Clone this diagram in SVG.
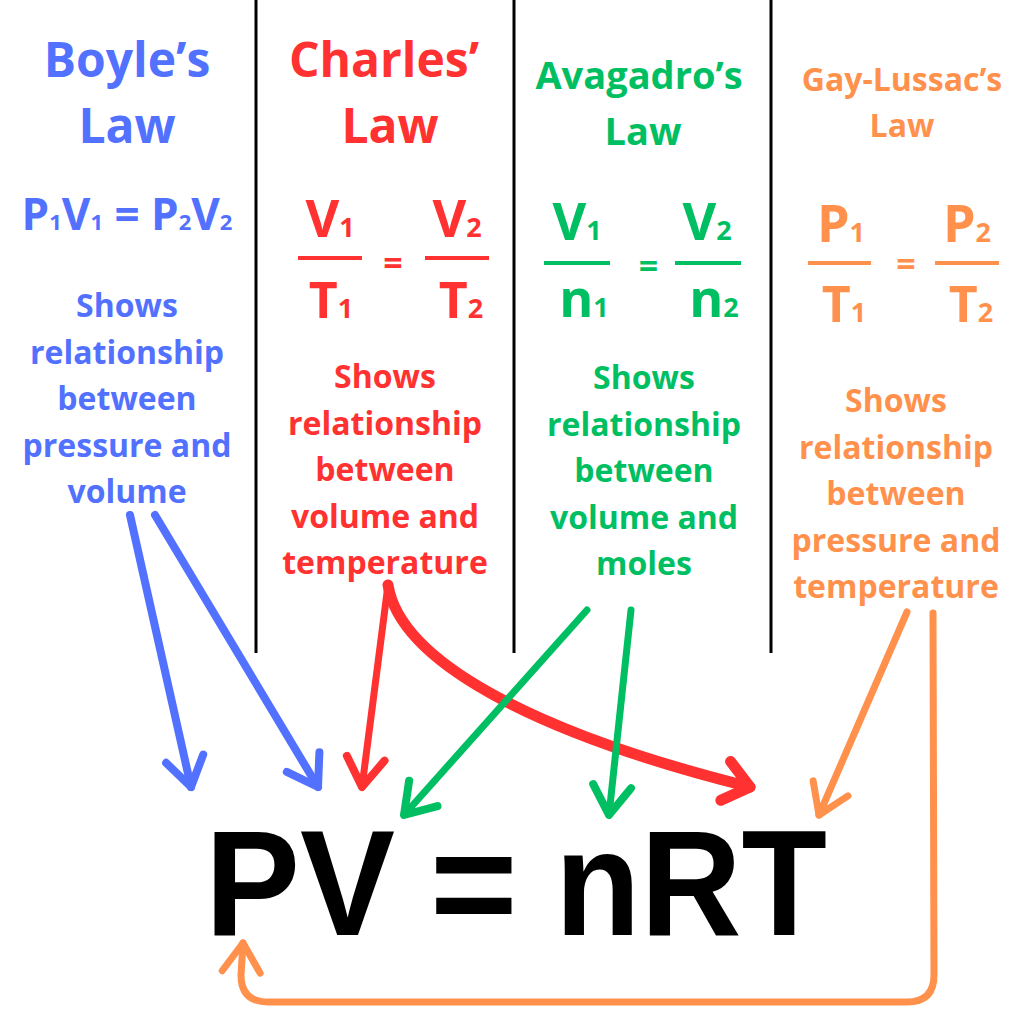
<svg xmlns="http://www.w3.org/2000/svg" width="1024" height="1024" viewBox="0 0 1024 1024">
<style>
.t{font-family:"Open Sans","Liberation Sans",sans-serif;font-weight:700;text-anchor:middle}
.blue{fill:#5271FF}.red{fill:#FF3131}.green{fill:#00BF63}.orange{fill:#FF914D}
.body{font-size:32px}
.big{font-family:"Liberation Sans",Arial,sans-serif;font-weight:700;font-size:150px;fill:#000}
.div{stroke:#000;stroke-width:3}
.conn{fill:none;stroke-linecap:round;stroke-linejoin:round}
.cb{stroke:#5271FF;stroke-width:8;marker-end:url(#mb)}
.cr{stroke:#FF3131;stroke-width:7;marker-end:url(#mr)}
.crt{stroke:#FF3131;stroke-width:11;marker-end:url(#mrt)}
.cg{stroke:#00BF63;stroke-width:7;marker-end:url(#mg)}
.co{stroke:#FF914D;stroke-width:7;marker-end:url(#mo)}
</style>
<defs>
<marker id="mb" markerUnits="userSpaceOnUse" orient="auto" overflow="visible" markerWidth="1" markerHeight="1"><path d="M-29,-19 L0,0 L-29,19" fill="none" stroke="#5271FF" stroke-width="8" stroke-linecap="round" stroke-linejoin="round"/></marker>
<marker id="mr" markerUnits="userSpaceOnUse" orient="auto" overflow="visible" markerWidth="1" markerHeight="1"><path d="M-29,-19 L0,0 L-29,19" fill="none" stroke="#FF3131" stroke-width="8" stroke-linecap="round" stroke-linejoin="round"/></marker>
<marker id="mrt" markerUnits="userSpaceOnUse" orient="auto" overflow="visible" markerWidth="1" markerHeight="1"><path d="M-25,-20 L0,0 L-25,20" fill="none" stroke="#FF3131" stroke-width="11" stroke-linecap="round" stroke-linejoin="round"/></marker>
<marker id="mg" markerUnits="userSpaceOnUse" orient="auto" overflow="visible" markerWidth="1" markerHeight="1"><path d="M-29,-19 L0,0 L-29,19" fill="none" stroke="#00BF63" stroke-width="8" stroke-linecap="round" stroke-linejoin="round"/></marker>
<marker id="mo" markerUnits="userSpaceOnUse" orient="auto" overflow="visible" markerWidth="1" markerHeight="1"><path d="M-29,-19 L0,0 L-29,19" fill="none" stroke="#FF914D" stroke-width="7" stroke-linecap="round" stroke-linejoin="round"/></marker>
</defs>
<rect width="1024" height="1024" fill="#fff"/>
<g id="dividers">
<line class="div" x1="256" y1="0" x2="256" y2="653"/>
<line class="div" x1="514" y1="0" x2="514" y2="653"/>
<line class="div" x1="771" y1="0" x2="771" y2="653"/>
</g>
<g id="boyle">
<text class="t blue" font-size="48" x="127" y="77">Boyle’s</text>
<text class="t blue" font-size="48" x="127" y="143">Law</text>
<text class="t blue" font-size="44" x="127" y="230">P<tspan font-size="22">1</tspan>V<tspan font-size="22">1</tspan> = P<tspan font-size="22">2</tspan>V<tspan font-size="22">2</tspan></text>
<text class="t blue body" x="127" y="317">Shows</text>
<text class="t blue body" x="127" y="363.5">relationship</text>
<text class="t blue body" x="127" y="410">between</text>
<text class="t blue body" x="127" y="456.5">pressure and</text>
<text class="t blue body" x="127" y="503">volume</text>
</g>
<g id="charles">
<text class="t red" font-size="48" x="384" y="77">Charles’</text>
<text class="t red" font-size="48" x="390" y="143">Law</text>
<text class="t red" font-size="52" x="330" y="237">V<tspan font-size="27">1</tspan></text>
<rect class="red" x="298" y="256" width="64" height="4"/>
<text class="t red" font-size="50" x="331" y="318">T<tspan font-size="27">1</tspan></text>
<text class="t red" font-size="34" x="393" y="274.5">=</text>
<text class="t red" font-size="52" x="457" y="237">V<tspan font-size="27">2</tspan></text>
<rect class="red" x="425" y="256" width="64" height="4"/>
<text class="t red" font-size="50" x="461" y="318">T<tspan font-size="27">2</tspan></text>
<text class="t red body" x="385" y="388">Shows</text>
<text class="t red body" x="385" y="434.5">relationship</text>
<text class="t red body" x="385" y="481">between</text>
<text class="t red body" x="385" y="527.5">volume and</text>
<text class="t red body" x="385" y="574">temperature</text>
</g>
<g id="avagadro">
<text class="t green" font-size="38" x="639" y="89">Avagadro’s</text>
<text class="t green" font-size="38" x="643" y="145">Law</text>
<text class="t green" font-size="52" x="577" y="240">V<tspan font-size="27">1</tspan></text>
<rect class="green" x="544" y="261" width="66" height="4"/>
<text class="t green" font-size="52" x="584" y="317">n<tspan font-size="27">1</tspan></text>
<text class="t green" font-size="34" x="648.5" y="277.5">=</text>
<text class="t green" font-size="52" x="707" y="240">V<tspan font-size="27">2</tspan></text>
<rect class="green" x="675" y="261" width="66" height="4"/>
<text class="t green" font-size="52" x="714" y="317">n<tspan font-size="27">2</tspan></text>
<text class="t green body" x="644" y="389">Shows</text>
<text class="t green body" x="644" y="435.5">relationship</text>
<text class="t green body" x="644" y="482">between</text>
<text class="t green body" x="644" y="528.5">volume and</text>
<text class="t green body" x="644" y="575">moles</text>
</g>
<g id="gaylussac">
<text class="t orange" font-size="32" x="902" y="91">Gay-Lussac’s</text>
<text class="t orange" font-size="32" x="902" y="137">Law</text>
<text class="t orange" font-size="52" x="841" y="242">P<tspan font-size="27">1</tspan></text>
<rect class="orange" x="808" y="261" width="63" height="4"/>
<text class="t orange" font-size="50" x="844" y="322">T<tspan font-size="27">1</tspan></text>
<text class="t orange" font-size="34" x="906" y="276">=</text>
<text class="t orange" font-size="52" x="967" y="242">P<tspan font-size="27">2</tspan></text>
<rect class="orange" x="935" y="261" width="64" height="4"/>
<text class="t orange" font-size="50" x="971" y="322">T<tspan font-size="27">2</tspan></text>
<text class="t orange body" x="896" y="412">Shows</text>
<text class="t orange body" x="896" y="458.5">relationship</text>
<text class="t orange body" x="896" y="505">between</text>
<text class="t orange body" x="896" y="551.5">pressure and</text>
<text class="t orange body" x="896" y="598">temperature</text>
</g>
<g id="idealgas">
<text class="big" y="935"><tspan x="205" textLength="190" lengthAdjust="spacingAndGlyphs">PV</tspan><tspan x="430">=</tspan><tspan x="555" textLength="272" lengthAdjust="spacingAndGlyphs">nRT</tspan></text>
</g>
<g id="connectors" class="conn">
<path class="cb" d="M130,515 L191,787"/>
<path class="cb" d="M155,515 L318,787"/>
<path class="cr" d="M388,585 L362,787"/>
<path class="crt" d="M388,585 C400,660 530,732 750,787"/>
<path class="cg" d="M587,610 L404,815"/>
<path class="cg" d="M631,610 L609,815"/>
<path class="co" d="M907,612 L819,815"/>
<path class="co" d="M933,613 L934,975 Q934,1002 907,1002 L268,1002 Q241,1002 241,975 L243,943"/>
</g>
</svg>
